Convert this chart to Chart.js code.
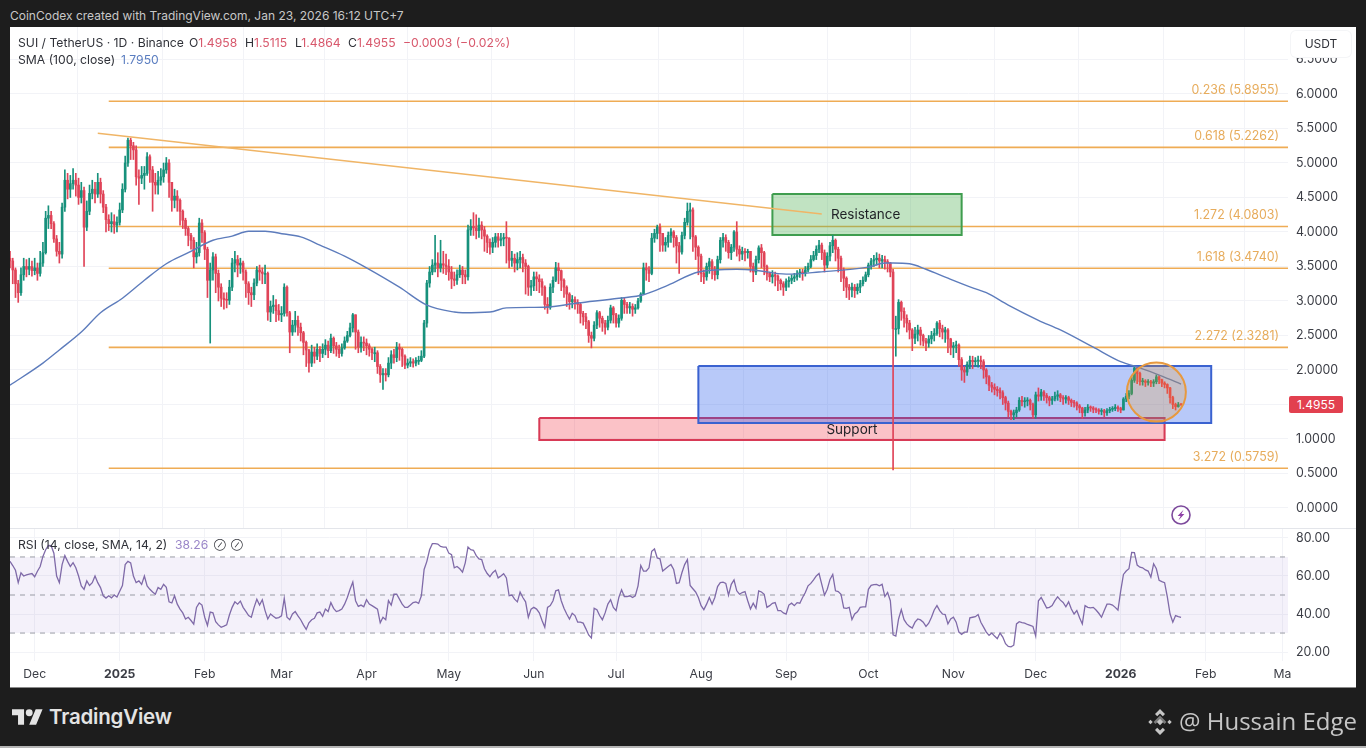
<!DOCTYPE html>
<html lang="en">
<head>
<meta charset="utf-8">
<title>SUI / TetherUS</title>
<script src="https://cdn.jsdelivr.net/npm/chart.js@4"></script>
<style>
  html, body { margin: 0; height: 100%; background: #1d1d1d; overflow: hidden; }
  body { position: relative; width: 1366px; height: 748px; font-family: Inter, Roboto, sans-serif; }
  #panel { position: absolute; left: 10px; top: 27px; width: 1346px; height: 660px; background: #fff; }
  #panelEdge { position: absolute; left: 10px; top: 687px; width: 1346px; height: 1px; background: #8a8a8a; }
  #bottomEdge { position: absolute; left: 0; top: 746px; width: 1366px; height: 2px; background: #b5b5b5; }
  #paneLine { position: absolute; left: 10px; top: 528px; width: 1346px; height: 1px; background: #e3e5ea; }
  canvas { position: absolute; left: 10px; filter: blur(0.35px); }
  #priceChart { top: 27px; }
  #rsiChart { top: 529px; }
  .t { position: absolute; white-space: nowrap; font-size: 12.2px; line-height: 16px; color: #2f3138; transform: translateY(-50%); }
  .red { color: #d8586c; }
  .blue { color: #5a7dc0; }
  .purple { color: #9a86c8; }
  #usdt { position: absolute; left: 1291px; top: 31px; width: 60px; height: 26px; background: #fff; border-radius: 5px; box-shadow: 0 0 0 1px #f4f5f7; font-size: 12px; line-height: 26px; text-align: center; color: #2f3138; }
  #priceTag { position: absolute; left: 1289px; top: 396px; width: 54px; height: 17px; background: #e2404f; border-radius: 2px; color: #fff; font-size: 12px; line-height: 17px; text-align: center; }
</style>
</head>
<body>
<div id="panel"></div>
<div id="panelEdge"></div>
<div id="bottomEdge"></div>
<canvas id="priceChart" width="1346" height="501"></canvas>
<canvas id="rsiChart" width="1346" height="158"></canvas>
<div id="paneLine"></div>

<span class="t" style="left:10px;top:16px;color:#c8c8c8;font-size:12px">CoinCodex created with TradingView.com, Jan 23, 2026 16:12 UTC+7</span>
<span class="t" style="left:18px;top:43px">SUI / TetherUS · 1D · Binance</span>
<span class="t" style="left:189px;top:43px">O<span class="red">1.4958</span></span>
<span class="t" style="left:245px;top:43px">H<span class="red">1.5115</span></span>
<span class="t" style="left:295px;top:43px">L<span class="red">1.4864</span></span>
<span class="t" style="left:348px;top:43px">C<span class="red">1.4955</span></span>
<span class="t red" style="left:403px;top:43px">−0.0003 (−0.02%)</span>
<span class="t" style="left:18px;top:60px">SMA (100, close)</span>
<span class="t blue" style="left:121px;top:60px">1.7950</span>
<span class="t" style="left:18px;top:545px">RSI (14, close, SMA, 14, 2)</span>
<span class="t purple" style="left:175px;top:545px">38.26</span>
<span class="t" style="left:214px;top:545px;font-size:8.5px">⊘</span>
<span class="t" style="left:231px;top:545px;font-size:8.5px">⊘</span>
<div id="usdt">USDT</div>
<div id="priceTag">1.4955</div>

<svg style="position:absolute;left:1171px;top:505px" width="20" height="20" viewBox="0 0 20 20">
  <circle cx="10" cy="10" r="9" fill="none" stroke="#7d4a9c" stroke-width="1.6"/>
  <path d="M12.5 4.8 6.6 11h3l-2.1 4.2 5.9-6.2h-3z" fill="#8e3fa6"/>
</svg>

<svg style="position:absolute;left:12px;top:708px" width="31" height="18" viewBox="0 4 36 18">
  <path d="M14 22H7V11H0V4h14v18zM28 22h-8l7.5-18h8L28 22z" fill="#e4e4e4"/>
  <circle cx="20" cy="8" r="4" fill="#e4e4e4"/>
</svg>
<span class="t" style="left:49px;top:717px;font-size:20.5px;line-height:26px;font-weight:600;color:#e4e4e4;letter-spacing:-0.2px">TradingView</span>

<svg style="position:absolute;left:1146px;top:708px" width="28" height="28" viewBox="0 0 28 28">
  <g fill="#c6c6c6">
    <path d="M14 1l5 5-2.2 2.2L14 5.4l-2.8 2.8L9 6z"/>
    <path d="M14 27l5-5-2.2-2.200L14 22.600l-2.800-2.800L9 22z"/>
    <path d="M14 10.800l3.200 3.200-3.200 3.200-3.200-3.200z"/>
    <path d="M4.500 11.800l2.200 2.200-2.200 2.200L2.300 14z"/>
    <path d="M23.500 11.800l2.200 2.200-2.200 2.200-2.200-2.200z"/>
    <path d="M14 7.500l6.500 6.500-2 2-4.500-4.500-4.500 4.500-2-2z" opacity=".55"/>
  </g>
</svg>
<span class="t" style="left:1179px;top:721px;font-family:'Open Sans',sans-serif;font-size:24px;line-height:30px;color:#c6c6c6">@ Hussain Edge</span>

<script>
// Candles, one per day from 22 Nov 2024 (open is the close before)
const firstOpen = 3.62;
const closes = [
  3.58,3.45,3.25,3.12,3.38,3.5,3.46,3.5,3.44,3.48,
  3.40,3.55,3.7,4.2,4.24,4.12,3.9,3.72,3.68,4.36,
  4.75,4.62,4.7,4.75,4.68,4.5,4.6,4.07,4.3,4.56,
  4.62,4.55,4.72,4.55,4.36,4.18,4.12,4.15,4.1,4.14,
  4.32,4.62,5.0,5.33,5.25,5.19,4.8,4.78,4.82,4.85,
  5.09,4.9,4.72,4.68,4.75,4.8,4.9,5.0,4.72,4.46,
  4.52,4.46,4.3,4.17,4.05,3.95,3.88,3.64,3.7,4.13,
  3.99,3.75,3.3,3.45,3.64,3.4,3.2,3.04,3.02,3.01,
  3.2,3.55,3.6,3.52,3.55,3.42,3.25,3.12,3.09,3.26,
  3.45,3.42,3.4,3.4,2.84,2.92,2.94,2.86,2.8,2.82,
  3.2,2.83,2.55,2.65,2.72,2.62,2.54,2.4,2.29,2.1,
  2.26,2.2,2.3,2.24,2.3,2.36,2.28,2.46,2.35,2.3,
  2.24,2.32,2.42,2.5,2.61,2.8,2.55,2.33,2.4,2.39,
  2.35,2.3,2.25,2.25,2.05,1.93,1.95,1.93,2.1,2.22,
  2.18,2.33,2.3,2.2,2.07,2.1,2.12,2.1,2.14,2.14,
  2.2,2.68,3.26,3.42,3.52,3.55,3.48,3.54,3.52,3.5,
  3.42,3.32,3.3,3.38,3.45,3.38,3.35,4.03,4.08,4.06,
  4.02,4.1,4.03,3.94,3.85,3.78,3.85,3.93,3.88,3.9,
  3.92,3.91,3.59,3.62,3.55,3.6,3.63,3.55,3.5,3.2,
  3.22,3.35,3.32,3.28,3.2,2.95,2.91,3.2,3.3,3.48,
  3.44,3.3,3.2,3.1,2.99,3.02,2.98,2.95,2.82,2.77,
  2.7,2.5,2.46,2.65,2.83,2.75,2.68,2.62,2.72,2.9,
  2.8,2.68,2.75,3.01,2.95,2.9,2.92,2.88,2.9,3.0,
  3.1,3.48,3.45,3.4,3.91,3.98,4.07,3.98,3.81,3.85,
  3.95,4.0,3.92,3.8,3.71,3.95,4.14,4.3,4.32,3.93,
  3.78,3.65,3.4,3.35,3.5,3.57,3.45,3.38,3.6,3.88,
  3.92,3.85,3.7,3.78,4.0,3.75,3.68,3.72,3.7,3.72,
  3.5,3.42,3.6,3.77,3.7,3.5,3.4,3.35,3.38,3.36,
  3.3,3.25,3.2,3.28,3.3,3.33,3.35,3.4,3.42,3.4,
  3.45,3.5,3.6,3.66,3.75,3.81,3.7,3.52,3.65,3.8,
  3.88,3.75,3.62,3.45,3.33,3.2,3.16,3.2,3.15,3.2,
  3.25,3.3,3.38,3.52,3.58,3.6,3.62,3.58,3.6,3.57,
  3.55,3.42,2.6,2.6,2.98,2.85,2.75,2.68,2.58,2.46,
  2.52,2.58,2.5,2.42,2.39,2.45,2.5,2.53,2.68,2.6,
  2.55,2.58,2.45,2.33,2.35,2.36,2.15,2.0,1.97,2.08,
  2.14,2.12,2.13,2.14,2.12,2.0,1.9,1.78,1.75,1.72,
  1.7,1.67,1.6,1.52,1.4,1.35,1.38,1.42,1.56,1.54,
  1.55,1.56,1.5,1.35,1.64,1.62,1.68,1.63,1.6,1.56,
  1.58,1.62,1.64,1.6,1.58,1.6,1.56,1.53,1.52,1.48,
  1.45,1.38,1.42,1.46,1.45,1.43,1.42,1.4,1.41,1.38,
  1.41,1.43,1.44,1.46,1.44,1.42,1.58,1.62,1.66,1.85,
  2.03,1.95,1.83,1.84,1.82,1.83,1.81,1.83,1.9,1.86,
  1.81,1.79,1.74,1.6,1.5,1.47,1.4958,1.4955
];
const highs = [
  3.72,3.62,3.48,3.3,3.48,3.62,3.6,3.62,3.58,3.62,
  3.55,3.72,3.85,4.3,4.38,4.3,4.15,3.95,3.85,4.42,
  4.9,4.85,4.82,4.92,4.85,4.78,4.72,4.65,4.45,4.68,
  4.75,4.72,4.85,4.78,4.6,4.4,4.25,4.28,4.25,4.22,
  4.42,4.7,5.1,5.36,5.36,5.3,5.25,4.9,4.95,4.95,
  5.15,5.12,4.95,4.85,4.88,4.92,5.0,5.08,5.05,4.72,
  4.62,4.6,4.48,4.32,4.2,4.08,3.98,3.92,3.85,4.2,
  4.18,4.02,3.78,3.55,3.7,3.68,3.45,3.25,3.12,3.12,
  3.3,3.62,3.72,3.66,3.62,3.58,3.45,3.28,3.2,3.32,
  3.5,3.52,3.48,3.52,3.42,3.0,3.08,3.02,2.95,2.92,
  3.25,3.22,2.85,2.72,2.85,2.78,2.68,2.56,2.42,2.3,
  2.36,2.33,2.38,2.34,2.38,2.44,2.42,2.52,2.48,2.4,
  2.36,2.38,2.48,2.56,2.68,2.82,2.8,2.58,2.48,2.48,
  2.45,2.38,2.32,2.33,2.28,2.08,2.02,2.02,2.18,2.28,
  2.3,2.4,2.38,2.32,2.22,2.16,2.18,2.16,2.18,2.2,
  2.28,2.72,3.3,3.5,3.6,3.95,3.7,3.88,3.72,3.68,
  3.6,3.5,3.42,3.45,3.52,3.5,3.45,4.1,4.18,4.28,
  4.25,4.2,4.15,4.08,3.96,3.9,3.92,3.98,3.98,3.98,
  3.98,4.15,3.92,3.72,3.68,3.7,3.72,3.68,3.6,3.52,
  3.3,3.42,3.42,3.38,3.32,3.22,3.05,3.25,3.35,3.56,
  3.55,3.45,3.32,3.22,3.12,3.08,3.06,3.02,2.98,2.85,
  2.82,2.72,2.55,2.7,2.86,2.85,2.78,2.72,2.78,2.94,
  2.92,2.82,2.8,3.05,3.04,2.98,2.98,2.96,2.95,3.04,
  3.12,3.55,3.55,3.5,3.98,4.04,4.1,4.12,3.98,3.92,
  4.0,4.05,4.02,3.95,3.85,4.0,4.2,4.42,4.42,4.35,
  3.95,3.8,3.68,3.45,3.55,3.62,3.6,3.5,3.65,3.92,
  3.98,3.96,3.88,3.82,4.02,4.15,3.8,3.78,3.76,3.75,
  3.72,3.55,3.65,3.8,3.82,3.72,3.52,3.42,3.44,3.42,
  3.38,3.32,3.28,3.32,3.35,3.38,3.4,3.44,3.46,3.46,
  3.5,3.55,3.66,3.72,3.8,3.88,3.84,3.74,3.7,3.85,
  3.95,3.9,3.78,3.65,3.48,3.35,3.24,3.26,3.24,3.25,
  3.3,3.35,3.42,3.55,3.62,3.66,3.7,3.68,3.66,3.65,
  3.6,3.56,3.46,2.78,3.02,3.0,2.9,2.8,2.72,2.6,
  2.62,2.65,2.62,2.52,2.46,2.5,2.56,2.6,2.7,2.72,
  2.65,2.62,2.6,2.46,2.4,2.42,2.38,2.18,2.05,2.12,
  2.2,2.2,2.18,2.2,2.2,2.15,2.02,1.92,1.82,1.8,
  1.76,1.74,1.7,1.62,1.55,1.42,1.42,1.46,1.6,1.62,
  1.6,1.6,1.58,1.52,1.68,1.74,1.72,1.7,1.66,1.62,
  1.62,1.68,1.7,1.66,1.63,1.63,1.62,1.58,1.56,1.54,
  1.5,1.46,1.46,1.5,1.48,1.47,1.45,1.44,1.44,1.43,
  1.44,1.46,1.47,1.5,1.48,1.46,1.6,1.66,1.7,1.9,
  2.05,2.04,1.97,1.88,1.86,1.86,1.85,1.86,1.93,1.92,
  1.87,1.83,1.8,1.75,1.62,1.52,1.53,1.5115
];
const lows = [
  3.48,3.25,3.05,2.98,3.08,3.3,3.35,3.38,3.36,3.38,
  3.3,3.36,3.5,3.68,4.05,4.05,3.85,3.65,3.55,3.62,
  4.3,4.48,4.5,4.62,4.52,4.4,4.42,3.5,4.02,4.25,
  4.48,4.42,4.5,4.42,4.28,4.0,4.02,4.0,3.98,4.0,
  4.1,4.28,4.58,4.95,5.05,5.05,4.68,4.4,4.7,4.62,
  4.82,4.72,4.3,4.55,4.55,4.68,4.72,4.85,4.5,4.3,
  4.35,4.3,4.1,4.05,3.95,3.8,3.75,3.48,3.55,3.65,
  3.85,3.6,3.05,2.39,3.3,3.12,3.0,2.92,2.88,2.9,
  2.95,3.15,3.42,3.35,3.4,3.3,3.05,2.95,2.92,3.02,
  3.22,3.3,3.25,3.25,2.72,2.7,2.82,2.7,2.72,2.7,
  2.78,2.78,2.25,2.5,2.55,2.5,2.42,2.22,2.05,1.97,
  2.05,2.1,2.15,2.12,2.18,2.22,2.18,2.25,2.24,2.2,
  2.18,2.2,2.3,2.4,2.48,2.55,2.3,2.25,2.26,2.28,
  2.22,2.2,2.15,2.12,1.95,1.82,1.72,1.84,1.9,2.02,
  2.1,2.12,2.14,2.05,2.02,2.03,2.05,2.04,2.06,2.08,
  2.12,2.18,2.62,3.2,3.38,3.42,3.35,3.42,3.4,3.38,
  3.3,3.18,3.22,3.24,3.34,3.25,3.25,3.3,3.95,3.95,
  3.9,3.92,3.9,3.72,3.7,3.68,3.7,3.78,3.78,3.8,
  3.8,3.55,3.48,3.5,3.42,3.45,3.48,3.42,3.1,3.08,
  3.08,3.15,3.15,3.12,3.08,2.88,2.82,2.88,3.12,3.28,
  3.25,3.15,3.05,2.92,2.88,2.9,2.88,2.82,2.68,2.65,
  2.6,2.4,2.32,2.42,2.6,2.62,2.56,2.52,2.58,2.68,
  2.68,2.62,2.62,2.72,2.82,2.82,2.82,2.78,2.82,2.88,
  2.98,3.1,3.3,3.28,3.38,3.85,3.9,3.72,3.72,3.72,
  3.78,3.85,3.78,3.55,3.4,3.68,3.9,4.1,3.9,3.72,
  3.6,3.38,3.28,3.25,3.3,3.4,3.32,3.3,3.32,3.55,
  3.78,3.72,3.62,3.6,3.72,3.65,3.58,3.6,3.58,3.62,
  3.42,3.28,3.38,3.55,3.48,3.38,3.3,3.28,3.26,3.22,
  3.15,3.16,3.08,3.15,3.2,3.25,3.28,3.3,3.34,3.3,
  3.36,3.42,3.48,3.58,3.6,3.7,3.6,3.42,3.48,3.58,
  3.7,3.58,3.42,3.28,3.15,3.05,3.02,3.06,3.05,3.1,
  3.12,3.22,3.28,3.35,3.46,3.5,3.52,3.48,3.48,3.46,
  3.42,3.35,0.55,2.2,2.52,2.72,2.62,2.55,2.45,2.28,
  2.38,2.42,2.36,2.35,2.28,2.33,2.38,2.42,2.5,2.48,
  2.45,2.4,2.25,2.22,2.18,2.25,2.05,1.85,1.82,1.92,
  2.02,2.02,2.05,2.04,2.02,1.88,1.8,1.7,1.68,1.64,
  1.62,1.58,1.5,1.42,1.32,1.28,1.28,1.32,1.4,1.48,
  1.46,1.48,1.42,1.3,1.3,1.55,1.56,1.56,1.52,1.48,
  1.5,1.55,1.56,1.54,1.5,1.52,1.5,1.47,1.46,1.42,
  1.38,1.3,1.33,1.38,1.4,1.38,1.38,1.36,1.35,1.32,
  1.34,1.38,1.4,1.41,1.4,1.38,1.42,1.54,1.58,1.64,
  1.82,1.8,1.78,1.78,1.76,1.78,1.76,1.76,1.8,1.8,
  1.76,1.74,1.66,1.52,1.44,1.42,1.46,1.4864
];
const rsi = [
  67.7,65.5,63,56.5,61.7,60,60.6,61,61.3,59.6,
  62.5,65,70.3,73.8,76,75.9,72,60,56.5,66,
  70.7,67.7,65,67,64.3,60,54.8,53,57.4,55,
  56.5,60,56.5,53.9,49.6,48.4,49.6,48.5,50,48.9,
  52,55,66,67.7,66.9,60,56.5,57.4,55.6,60,
  54.8,53,51.6,50.4,53.9,53,55.6,54,46.4,45.8,
  49.6,45.2,42.6,40.6,37.4,38.3,36.6,34.7,43.5,45.8,
  44.7,38.3,34,41,40.6,36,34.3,33,33.6,34.3,
  39.5,43.5,46.4,45.2,46.8,43.5,41.4,39.2,38.3,43.5,
  47.8,44.7,47.5,41.8,37.4,40,38.8,37.8,38.1,39,
  48.2,38.3,37,40,41.3,39,37,34.3,31.9,35.4,
  37,37.8,40.6,41,38.8,42.6,41.3,46,43,41.3,
  41.8,42.6,45.2,48.7,53,56.8,47,44,44.7,43.8,
  47.5,45.2,44.4,43.5,42.6,35.4,38.3,37,47,44.7,
  50.4,50.4,47.8,45.2,43.5,43.5,44.7,46,46.4,45.6,
  49.6,63.4,67.7,73.8,77,77,76.8,75.5,75.2,75.2,
  72,71.2,64.3,65,63.8,62,66.9,75.2,73.8,73.5,
  70.7,69,68.6,63.8,61.3,59.6,61.7,63,59,60,
  61.2,59,49.6,50,47.8,46.4,51.6,48.7,46.4,38.3,
  42.6,43.5,42.6,40.6,36.6,33,43.5,44.4,47,52.2,
  52.7,47,43,40,37.4,40.4,39.2,35.7,35.7,35.2,
  32.2,29,27.4,43,42.3,39.2,37,40.6,45.2,47.5,
  43.5,41.8,48.7,52.7,49.2,49.2,49.6,48.7,49.6,54.8,
  65.5,62.6,62.6,64.3,73,74.2,69.5,69,62.6,63.8,
  65,66,63.4,56.1,56.5,61.7,66,68.6,55,53.3,
  51.6,48.7,44.4,42.3,45.2,48.7,45.2,48.7,54.4,56.5,
  56.8,56.1,49.9,55.6,57.9,52.2,50.4,51.3,51.8,47,
  42.6,45.7,43,52.2,51.6,50.4,43.5,44.4,45.6,46,
  41.8,41.8,40.6,40,44.7,45.7,44.4,46,45.7,48.7,
  51.3,54.8,56.1,57.9,60,61.3,55.6,49.9,53,58.2,
  60.8,52.2,51.8,50.4,43.2,43,43.5,37.1,40,41.2,
  43.5,43.8,43.8,53,55.1,55.5,55.6,54.8,55.6,49.2,
  51.3,47,29.1,28.4,37.4,42.3,37,34.8,33.5,32.6,
  35.7,37.4,36.9,35.7,33.5,35.2,38.3,42.1,44.4,41.8,
  40,39.7,34.8,37.4,38.3,35.7,30.5,29.3,30.5,30.5,
  38,38.3,38.6,39.7,35.7,33.1,30.5,28.8,30,28.4,
  27,30,27.9,24.4,23,22.7,23.6,34.8,36,35.5,
  35.2,34.5,34,33.5,28.4,47,48.7,46,43.2,43.5,
  44.4,47,49,47.3,46.1,43.8,46.4,42.6,40,41.8,
  38,34.8,44.4,43.5,43.2,43.5,42.1,40.4,38.3,41.8,
  45.2,45.2,44.7,43.5,42.1,52.2,60.8,62.6,63.8,72.4,
  72.3,65.7,64.6,64.3,63.2,62.6,59.4,66.4,63.8,57.7,
  57,56.5,49,40,35.7,39.2,38.6,38.26
];

// SMA 100: day index and value
const smaDays = [0,12,18,26,33,41,49,57,65,74,81,87,93,100,106,113,122,130,142,152,162,165,175,181,195,207,222,231,240,251,265,271,283,295,313,319,322,328,334,342,351,356,364,375,383,395,405,412,420,427];
const smaValues = [1.78,2.10,2.29,2.55,2.83,3.04,3.30,3.54,3.70,3.88,3.94,4.01,4.01,3.97,3.93,3.81,3.65,3.48,3.20,2.94,2.84,2.83,2.84,2.90,2.91,2.97,3.04,3.09,3.23,3.42,3.46,3.45,3.39,3.42,3.49,3.55,3.55,3.54,3.46,3.33,3.19,3.12,2.94,2.72,2.58,2.33,2.12,2.03,1.91,1.795];

const fibLevels = [5.8955, 5.2262, 4.0803, 3.4740, 2.3281, 0.5759];
const fibNames = ['0.236', '0.618', '1.272', '1.618', '2.272', '3.272'];
const priceTicks = [0,0.5,1,1.5,2,2.5,3,3.5,4,4.5,5,5.5,6,6.5];
const rsiTicks = [20,40,60,80];
const rsiLevels = [70,50,30];
const monthDays = [9,40,71,99,130,160,191,221,252,283,313,344,374,405,436,464];
const monthNames = ['Dec','2025','Feb','Mar','Apr','May','Jun','Jul','Aug','Sep','Oct','Nov','Dec','2026','Feb','Ma'];

const dayCount = 467;
const lastDay = dayCount - 1;
const days = [];
for (let i = 0; i < dayCount; i++) {
    days.push(new Date(Date.UTC(2024, 10, 22 + i)).toISOString().slice(0, 10));
}

const GREEN = '#17917c';
const RED = '#e04458';
const GRID = '#f2f3f7';
const AXIS_TEXT = '#3b3d45';

const opens = [firstOpen, ...closes.slice(0, -1)];
const candleColors = closes.map((c, i) => (c >= opens[i] ? GREEN : RED));

// A point on the shared day axis (category scale wants the label itself)
function pt(day, value) {
    return { x: days[day], y: value };
}

function levelLine(value, from, color, width, dash) {
    return {
        type: 'line',
        data: [pt(from, value), pt(lastDay, value)],
        borderColor: color,
        borderWidth: width,
        borderDash: dash || [],
        pointRadius: 0,
        order: 8
    };
}

function box(dayA, dayB, top, bottom, line, fill) {
    return {
        type: 'line',
        data: [pt(dayA, top), pt(dayB, top), pt(dayB, bottom), pt(dayA, bottom), pt(dayA, top)],
        borderColor: line,
        backgroundColor: fill,
        borderWidth: 2,
        pointRadius: 0,
        fill: 'shape',
        order: 6
    };
}

// The price axis must not eat into the plot for its own labels
function fixYAxis(scale) {
    scale.width = 68;
    scale.paddingTop = 0;
    scale.paddingBottom = 0;
}

// Texts tied to the price scale
const priceTexts = {
    id: 'priceTexts',
    afterDatasetsDraw(chart) {
        const { ctx, scales } = chart;
        ctx.save();
        ctx.textBaseline = 'middle';
        ctx.font = '12.4px Inter, Roboto, sans-serif';
        ctx.fillStyle = '#e7ac5c';
        ctx.textAlign = 'right';
        fibLevels.forEach((level, i) => {
            const label = fibNames[i] + ' (' + level.toFixed(4) + ')';
            ctx.fillText(label, scales.x.right - 9, scales.y.getPixelForValue(level) - 11);
        });
        ctx.fillStyle = '#1f2126';
        ctx.font = '13.5px Inter, Roboto, sans-serif';
        ctx.textAlign = 'center';
        ctx.fillText('Resistance', scales.x.getPixelForValue(312), scales.y.getPixelForValue(4.25));
        ctx.fillText('Support', scales.x.getPixelForValue(307), scales.y.getPixelForValue(1.13));
        ctx.restore();
    }
};

const priceChart = new Chart(document.getElementById('priceChart'), {
    data: {
        labels: days,
        datasets: [
            ...fibLevels.map((level) => levelLine(level, 36, '#efac55', 1.6)),
            box(278, 347, 4.55, 3.957, '#3f9d4f', 'rgba(76, 175, 80, 0.35)'),
            box(251, 438, 2.058, 1.232, '#3a62d0', 'rgba(35, 88, 235, 0.32)'),
            box(193, 421, 1.304, 0.986, '#d83a56', 'rgba(242, 54, 69, 0.3)'),
            {
                type: 'bar',
                data: closes.map((c, i) => [lows[i], highs[i]]),
                backgroundColor: candleColors,
                barThickness: 1,
                grouped: false,
                order: 4
            },
            {
                type: 'bar',
                data: closes.map((c, i) => [opens[i], c]),
                backgroundColor: candleColors,
                barThickness: 2,
                minBarLength: 1,
                grouped: false,
                order: 3
            },
            {
                type: 'line',
                data: smaDays.map((d, i) => pt(d, smaValues[i])),
                borderColor: '#5d7cbc',
                borderWidth: 1.4,
                pointRadius: 0,
                cubicInterpolationMode: 'monotone',
                order: 2
            },
            {
                type: 'line',
                data: [pt(32, 5.43), pt(296, 4.26)],
                borderColor: '#f0b566',
                borderWidth: 1.5,
                pointRadius: 0,
                order: 1
            },
            {
                type: 'line',
                data: [pt(418, 1.68)],
                showLine: false,
                pointRadius: 29.5,
                pointBackgroundColor: 'rgba(255, 152, 0, 0.2)',
                pointBorderColor: '#e7993f',
                pointBorderWidth: 2,
                order: 0
            }
        ]
    },
    options: {
        responsive: false,
        animation: false,
        events: [],
        layout: { padding: 0, autoPadding: false },
        plugins: { legend: { display: false }, tooltip: { enabled: false } },
        scales: {
            x: {
                offset: false,
                afterBuildTicks: (scale) => { scale.ticks = monthDays.map((value) => ({ value })); },
                afterFit: (scale) => { scale.height = 0; },
                ticks: { display: false, autoSkip: false },
                grid: { color: GRID, drawTicks: false },
                border: { display: false }
            },
            y: {
                position: 'right',
                min: -0.29,
                max: 6.971,
                afterBuildTicks: (scale) => { scale.ticks = priceTicks.map((value) => ({ value })); },
                afterFit: fixYAxis,
                ticks: {
                    autoSkip: false,
                    padding: 8,
                    color: AXIS_TEXT,
                    font: { family: 'Inter, Roboto, sans-serif', size: 12.4 },
                    callback: (v) => v.toFixed(4)
                },
                grid: { color: GRID, drawTicks: false },
                border: { display: false }
            }
        }
    },
    plugins: [priceTexts]
});

const rsiChart = new Chart(document.getElementById('rsiChart'), {
    data: {
        labels: days,
        datasets: [
            {
                type: 'line',
                data: [pt(0, 70), pt(lastDay, 70)],
                borderWidth: 0,
                pointRadius: 0,
                fill: { value: 30 },
                backgroundColor: 'rgba(126, 87, 194, 0.085)',
                order: 3
            },
            ...rsiLevels.map((level) => {
                const line = levelLine(level, 0, '#9a9ca5', 1, [5, 5]);
                line.order = 2;
                return line;
            }),
            {
                type: 'line',
                data: rsi.map((v, i) => pt(i, v)),
                borderColor: '#7f6aa8',
                borderWidth: 1.3,
                pointRadius: 0,
                order: 1
            }
        ]
    },
    options: {
        responsive: false,
        animation: false,
        events: [],
        layout: { padding: 0, autoPadding: false },
        plugins: { legend: { display: false }, tooltip: { enabled: false } },
        scales: {
            x: {
                offset: false,
                afterBuildTicks: (scale) => { scale.ticks = monthDays.map((value) => ({ value })); },
                afterFit: (scale) => { scale.height = 26; },
                ticks: {
                    autoSkip: false,
                    maxRotation: 0,
                    padding: 6,
                    color: AXIS_TEXT,
                    font: (ctx) => {
                        const year = ctx.tick && ctx.tick.label && ctx.tick.label.startsWith('20');
                        return { family: 'Inter, Roboto, sans-serif', size: 12.2, weight: year ? '700' : '400' };
                    },
                    callback: (value) => monthNames[monthDays.indexOf(value)]
                },
                grid: { color: GRID, drawTicks: false },
                border: { display: false }
            },
            y: {
                position: 'right',
                min: 15.3,
                max: 84.7,
                afterBuildTicks: (scale) => { scale.ticks = rsiTicks.map((value) => ({ value })); },
                afterFit: fixYAxis,
                ticks: {
                    autoSkip: false,
                    padding: 8,
                    color: AXIS_TEXT,
                    font: { family: 'Inter, Roboto, sans-serif', size: 12.4 },
                    callback: (v) => v.toFixed(2)
                },
                grid: { color: GRID, drawTicks: false },
                border: { display: false }
            }
        }
    }
});
</script>
</body>
</html>
